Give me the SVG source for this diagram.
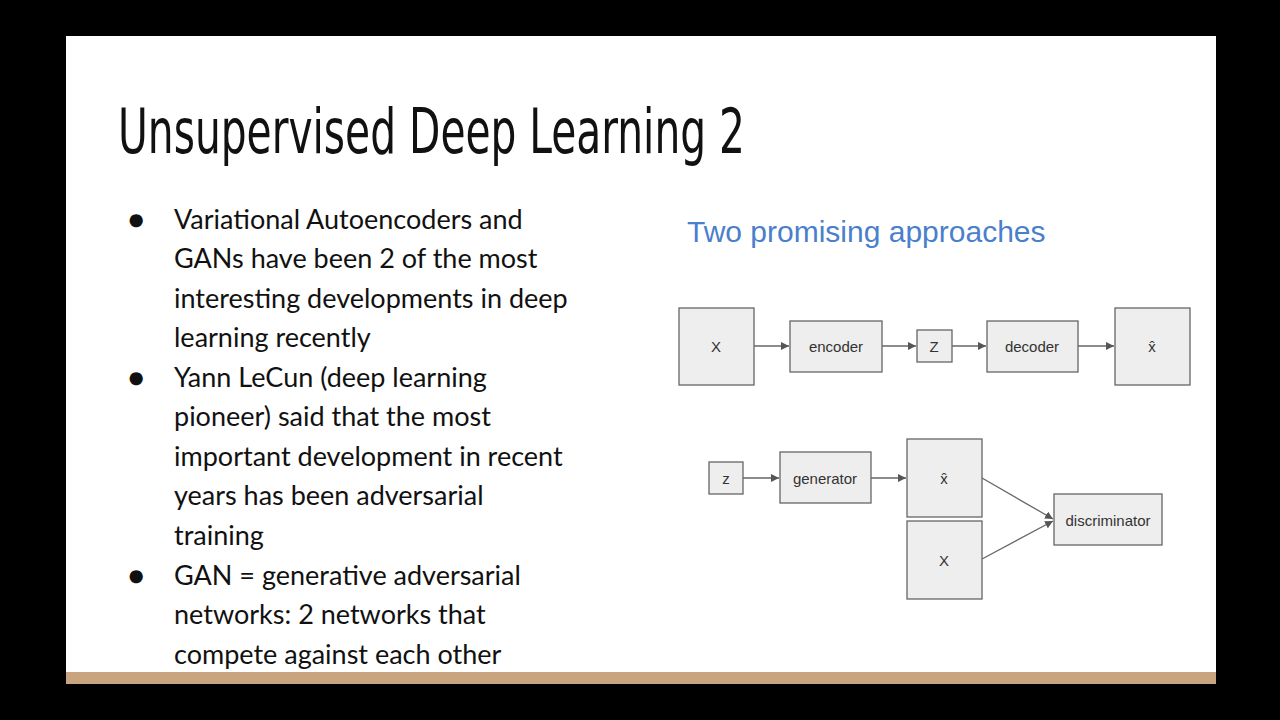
<svg xmlns="http://www.w3.org/2000/svg" width="1280" height="720" viewBox="0 0 1280 720">
<defs>
<style>
.b{font-family:Lato,"Open Sans",sans-serif;font-size:27px;fill:#111}
.n rect{fill:#eeeeee;stroke:#666;stroke-width:1.3}
.n text{font-family:"Liberation Sans",Arial,sans-serif;font-size:15px;fill:#333;text-anchor:middle;dominant-baseline:central}
.c line{stroke:#666;stroke-width:1.3;marker-end:url(#a)}
</style>
<marker id="a" viewBox="0 0 10 10" refX="10" refY="5" markerWidth="8" markerHeight="8" markerUnits="userSpaceOnUse" orient="auto"><path d="M0,0L10,5L0,10z" fill="#555"/></marker>
</defs>
<rect width="1280" height="720" fill="#000"/>
<rect x="66" y="36" width="1150" height="636" fill="#fff"/>
<rect x="66" y="672" width="1150" height="12" fill="#c9a57f"/>
<text x="118" y="153" font-family="'DejaVu Sans Condensed','DejaVu Sans',sans-serif" font-weight="300" font-size="62" textLength="627" lengthAdjust="spacingAndGlyphs" fill="#111">Unsupervised Deep Learning 2</text>
<g class="b">
<text x="128" y="229">●</text>
<text x="174" y="229">Variational Autoencoders and</text>
<text x="174" y="268">GANs have been 2 of the most</text>
<text x="174" y="308">interesting developments in deep</text>
<text x="174" y="347">learning recently</text>
<text x="128" y="387">●</text>
<text x="174" y="387">Yann LeCun (deep learning</text>
<text x="174" y="426">pioneer) said that the most</text>
<text x="174" y="466">important development in recent</text>
<text x="174" y="505">years has been adversarial</text>
<text x="174" y="545">training</text>
<text x="128" y="585">●</text>
<text x="174" y="585">GAN = generative adversarial</text>
<text x="174" y="624">networks: 2 networks that</text>
<text x="174" y="664">compete against each other</text>
</g>
<text x="687" y="242" font-family="'Liberation Sans',Arial,sans-serif" font-size="30" fill="#4a7fcb">Two promising approaches</text>
<g class="c">
<line x1="754" y1="346" x2="789" y2="346"/>
<line x1="882" y1="346" x2="916" y2="346"/>
<line x1="952" y1="346" x2="986" y2="346"/>
<line x1="1078" y1="346" x2="1114" y2="346"/>
<line x1="743" y1="478" x2="779" y2="478"/>
<line x1="871" y1="478" x2="906" y2="478"/>
<line x1="982" y1="478" x2="1053" y2="519"/>
<line x1="982" y1="559" x2="1053" y2="521"/>
</g>
<g id="x1" class="n"><rect x="679" y="308" width="75" height="77"/><text x="716" y="346">X</text></g>
<g id="enc" class="n"><rect x="790" y="321" width="92" height="51"/><text x="836" y="346">encoder</text></g>
<g id="z1" class="n"><rect x="917" y="330" width="35" height="32"/><text x="934" y="346">Z</text></g>
<g id="dec" class="n"><rect x="987" y="321" width="91" height="51"/><text x="1032" y="346">decoder</text></g>
<g id="xh1" class="n"><rect x="1115" y="308" width="75" height="77"/><text x="1152" y="346">x̂</text></g>
<g id="z2" class="n"><rect x="709" y="462" width="34" height="32"/><text x="726" y="478">z</text></g>
<g id="gen" class="n"><rect x="780" y="452" width="91" height="51"/><text x="825" y="478">generator</text></g>
<g id="xh2" class="n"><rect x="907" y="439" width="75" height="78"/><text x="944" y="478">x̂</text></g>
<g id="x2" class="n"><rect x="907" y="521" width="75" height="78"/><text x="944" y="560">X</text></g>
<g id="dis" class="n"><rect x="1054" y="494" width="108" height="51"/><text x="1108" y="520">discriminator</text></g>
</svg>
